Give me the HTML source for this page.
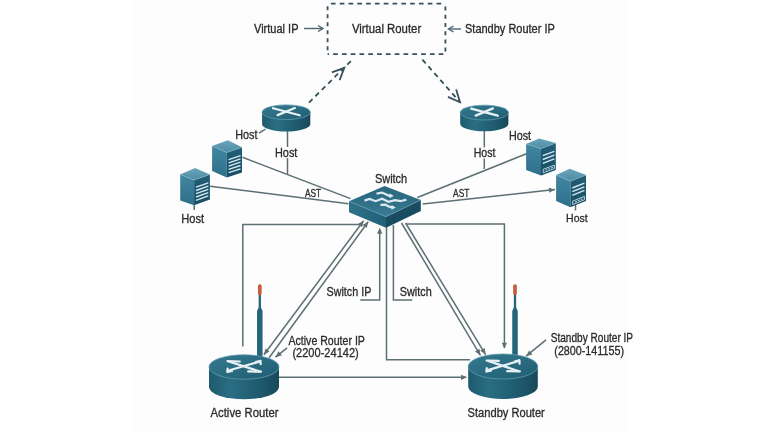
<!DOCTYPE html>
<html><head><meta charset="utf-8"><style>
html,body{margin:0;padding:0;background:#ffffff;width:768px;height:431px;overflow:hidden}
svg{display:block;font-family:"Liberation Sans",sans-serif;will-change:transform}
</style></head><body>
<svg width="768" height="431" viewBox="0 0 768 431" font-family="Liberation Sans, sans-serif">
<defs>
<linearGradient id="rtop" x1="0" y1="0" x2="1" y2="1"><stop offset="0" stop-color="#357a90"/><stop offset="1" stop-color="#1f5d72"/></linearGradient>
<linearGradient id="rside" x1="0" y1="0" x2="1" y2="0"><stop offset="0" stop-color="#1e5a6d"/><stop offset="0.3" stop-color="#2a6e84"/><stop offset="0.8" stop-color="#1d566a"/><stop offset="1" stop-color="#174858"/></linearGradient>
<linearGradient id="stop" x1="0" y1="0" x2="0" y2="1"><stop offset="0" stop-color="#6aa5ba"/><stop offset="1" stop-color="#4d8ca5"/></linearGradient>
<linearGradient id="sleft" x1="0" y1="0" x2="0" y2="1"><stop offset="0" stop-color="#4186a2"/><stop offset="1" stop-color="#2e708a"/></linearGradient>
<linearGradient id="sright" x1="0" y1="0" x2="0" y2="1"><stop offset="0" stop-color="#225f78"/><stop offset="1" stop-color="#184d63"/></linearGradient>
<linearGradient id="swtop" x1="0" y1="0" x2="0" y2="1"><stop offset="0" stop-color="#2a6a80"/><stop offset="0.5" stop-color="#2f6f86"/><stop offset="1" stop-color="#3a7d94"/></linearGradient>
<linearGradient id="swleft" x1="0" y1="0" x2="1" y2="0"><stop offset="0" stop-color="#2f7189"/><stop offset="1" stop-color="#22607a"/></linearGradient>
</defs>
<rect width="768" height="431" fill="#ffffff"/>
<rect x="131" width="497" height="431" fill="#fdfdfd"/>
<line x1="330.9" y1="3.6" x2="445.4" y2="3.6" stroke="#37505a" stroke-width="1.8" stroke-dasharray="4.7 4.1"/>
<line x1="327.6" y1="6.3" x2="327.6" y2="54.2" stroke="#37505a" stroke-width="1.8" stroke-dasharray="4 4"/>
<line x1="445.4" y1="3.6" x2="445.4" y2="54.2" stroke="#37505a" stroke-width="1.8" stroke-dasharray="4 4.2" stroke-dashoffset="-3"/>
<line x1="445.4" y1="54.2" x2="327.6" y2="54.2" stroke="#37505a" stroke-width="1.8" stroke-dasharray="4.7 4.1" stroke-dashoffset="-2"/>
<rect x="252.5" y="22.96" width="47.5" height="11.07" fill="#fdfdfd"/>
<text x="254" y="32.73" font-size="12.3" fill="#2a2a2a" stroke="#2a2a2a" stroke-width="0.3" textLength="44.5" lengthAdjust="spacingAndGlyphs">Virtual IP</text>
<line x1="304" y1="28.5" x2="322" y2="28.5" stroke="#4a6370" stroke-width="1.4" />
<polyline points="318.00,31.50 323,28.5 318.00,25.50" fill="none" stroke="#4a6370" stroke-width="1.4"/>
<rect x="350.4" y="23.27" width="72.3" height="11.07" fill="#fdfdfd"/>
<text x="351.9" y="33.03" font-size="12.3" fill="#2a2a2a" stroke="#2a2a2a" stroke-width="0.3" textLength="69.3" lengthAdjust="spacingAndGlyphs">Virtual Router</text>
<line x1="449.5" y1="29" x2="461" y2="29" stroke="#4a6370" stroke-width="1.4" />
<polyline points="453.50,26.00 448.5,29 453.50,32.00" fill="none" stroke="#4a6370" stroke-width="1.4"/>
<rect x="463.5" y="23.46" width="92.8" height="11.07" fill="#fdfdfd"/>
<text x="465" y="33.23" font-size="12.3" fill="#2a2a2a" stroke="#2a2a2a" stroke-width="0.3" textLength="89.8" lengthAdjust="spacingAndGlyphs">Standby Router IP</text>
<line x1="309" y1="102.6" x2="351.5" y2="60.4" stroke="#37505a" stroke-width="1.8" stroke-dasharray="5 4"/>
<polyline points="339.62,80.14 344.3,67.8 331.89,72.31" fill="none" stroke="#37505a" stroke-width="1.8"/>
<line x1="422.4" y1="59.7" x2="460" y2="102.2" stroke="#37505a" stroke-width="1.8" stroke-dasharray="5 4"/>
<polyline points="447.93,96.86 460,102.2 456.17,89.57" fill="none" stroke="#37505a" stroke-width="1.8"/>
<line x1="265.5" y1="129.2" x2="257.7" y2="133.9" stroke="#5c6f73" stroke-width="1.5" />
<line x1="287.5" y1="131" x2="287.5" y2="174" stroke="#5c6f73" stroke-width="1.5" />
<line x1="242.5" y1="157.3" x2="350.6" y2="198.6" stroke="#5c6f73" stroke-width="1.5" />
<line x1="210.1" y1="186.3" x2="348.5" y2="203.8" stroke="#5c6f73" stroke-width="1.5" />
<line x1="417.4" y1="197.5" x2="526.4" y2="153.8" stroke="#5c6f73" stroke-width="1.5" />
<line x1="422.7" y1="204" x2="555" y2="189.6" stroke="#5c6f73" stroke-width="1.5" />
<polygon points="549.32,192.83 555,189.6 548.75,187.66" fill="#5c6f73"/>
<line x1="484.3" y1="131" x2="484.3" y2="169" stroke="#5c6f73" stroke-width="1.5" />
<line x1="575.5" y1="205" x2="575.5" y2="210.5" stroke="#5c6f73" stroke-width="1.5" />
<line x1="194.2" y1="205" x2="194.2" y2="210" stroke="#5c6f73" stroke-width="1.5" />
<polyline points="362,224.4 242.8,224.4 242.8,346.4" fill="none" stroke="#5c6f73" stroke-width="1.5" stroke-linejoin="miter"/>
<line x1="263.9" y1="354.8" x2="363.6" y2="220.8" stroke="#5c6f73" stroke-width="1.5" />
<polygon points="362.10,227.17 363.6,220.8 357.93,224.06" fill="#5c6f73"/>
<polygon points="265.40,348.43 263.9,354.8 269.57,351.54" fill="#5c6f73"/>
<line x1="269.1" y1="357.7" x2="368.2" y2="221.7" stroke="#5c6f73" stroke-width="1.5" />
<polygon points="366.77,228.08 368.2,221.7 362.57,225.02" fill="#5c6f73"/>
<polyline points="360.3,300 379.7,300 379.7,229" fill="none" stroke="#5c6f73" stroke-width="1.5" stroke-linejoin="miter"/>
<polygon points="382.30,233.70 379.7,227.7 377.10,233.70" fill="#5c6f73"/>
<polyline points="386.5,227 386.5,359.7 470,359.7" fill="none" stroke="#5c6f73" stroke-width="1.5" stroke-linejoin="miter"/>
<polyline points="393.4,225 393.4,300 412.2,300" fill="none" stroke="#5c6f73" stroke-width="1.5" stroke-linejoin="miter"/>
<polyline points="405.6,224 504.4,224 504.4,348" fill="none" stroke="#5c6f73" stroke-width="1.5" stroke-linejoin="miter"/>
<polygon points="501.80,342.70 504.4,348.7 507.00,342.70" fill="#5c6f73"/>
<line x1="401.5" y1="223" x2="480.4" y2="355.3" stroke="#5c6f73" stroke-width="1.5" />
<polygon points="475.09,351.48 480.4,355.3 479.56,348.82" fill="#5c6f73"/>
<line x1="405.6" y1="223" x2="485.6" y2="354.6" stroke="#5c6f73" stroke-width="1.5" />
<polygon points="480.26,350.82 485.6,354.6 484.70,348.12" fill="#5c6f73"/>
<line x1="278" y1="377.3" x2="466" y2="377.3" stroke="#5c6f73" stroke-width="1.5" />
<polygon points="461.00,379.90 467,377.3 461.00,374.70" fill="#5c6f73"/>
<line x1="546" y1="339.8" x2="526.1" y2="356.2" stroke="#5c6f73" stroke-width="1.5" />
<polygon points="529.08,350.38 526.1,356.2 532.38,354.39" fill="#5c6f73"/>
<line x1="287.1" y1="347.8" x2="275.5" y2="357.1" stroke="#5c6f73" stroke-width="1.5" />
<polygon points="278.55,351.32 275.5,357.1 281.81,355.38" fill="#5c6f73"/>
<path d="M262.09999999999997,112.2 L262.09999999999997,124.2 A24.1,7.3 0 0 0 310.3,124.2 L310.3,112.2 Z" fill="url(#rside)"/>
<ellipse cx="286.2" cy="112.2" rx="24.1" ry="7.3" fill="url(#rtop)" stroke="#5d9bb0" stroke-width="0.8"/>
<polyline points="273.12,108.26 299.63,115.26" fill="none" stroke="#e6f1f4" stroke-width="2.30" stroke-linecap="round"/>
<polyline points="277.59,115.14 294.81,108.02" fill="none" stroke="#e6f1f4" stroke-width="2.30" stroke-linecap="round"/>
<path d="M460.2,112.6 L460.2,123.8 A24.1,7.4 0 0 0 508.40000000000003,123.8 L508.40000000000003,112.6 Z" fill="url(#rside)"/>
<ellipse cx="484.3" cy="112.6" rx="24.1" ry="7.4" fill="url(#rtop)" stroke="#5d9bb0" stroke-width="0.8"/>
<polyline points="471.22,108.61 497.73,115.71" fill="none" stroke="#e6f1f4" stroke-width="2.30" stroke-linecap="round"/>
<polyline points="475.69,115.59 492.91,108.37" fill="none" stroke="#e6f1f4" stroke-width="2.30" stroke-linecap="round"/>
<path d="M258.65000000000003,294 L258.65000000000003,307.5 L257.05,311 L257.05,360 L262.55,360 L262.55,311 L260.95,307.5 L260.95,294 Z" fill="#246579"/>
<rect x="257.95" y="284.2" width="3.7" height="10.8" rx="1.8" fill="#cc5a3e"/>
<path d="M513.85,294 L513.85,307.5 L512.25,311 L512.25,360 L517.75,360 L517.75,311 L516.15,307.5 L516.15,294 Z" fill="#246579"/>
<rect x="513.15" y="284.2" width="3.7" height="10.8" rx="1.8" fill="#cc5a3e"/>
<path d="M209,367 L209,387 A35,12.2 0 0 0 279,387 L279,367 Z" fill="url(#rside)"/>
<ellipse cx="244" cy="367" rx="35" ry="12.2" fill="url(#rtop)" stroke="#5d9bb0" stroke-width="0.8"/>
<polyline points="227.72,370.78 259.25,361.77" fill="none" stroke="#e6f1f4" stroke-width="2.23" stroke-linecap="round"/>
<polyline points="228.93,361.50 259.25,371.32" fill="none" stroke="#e6f1f4" stroke-width="2.23" stroke-linecap="round"/>
<polyline points="227.45,361.14 239.81,361.50" fill="none" stroke="#e6f1f4" stroke-width="2.23" stroke-linecap="round"/>
<polyline points="261.02,371.68 248.19,371.41" fill="none" stroke="#e6f1f4" stroke-width="2.23" stroke-linecap="round"/>
<polyline points="260.37,360.97 260.74,364.18" fill="none" stroke="#e6f1f4" stroke-width="2.23" stroke-linecap="round"/>
<polyline points="260.37,360.97 256.09,361.86" fill="none" stroke="#e6f1f4" stroke-width="2.23" stroke-linecap="round"/>
<polyline points="227.45,371.86 227.63,368.64" fill="none" stroke="#e6f1f4" stroke-width="2.23" stroke-linecap="round"/>
<polyline points="227.45,371.86 231.91,370.96" fill="none" stroke="#e6f1f4" stroke-width="2.23" stroke-linecap="round"/>
<path d="M468.2,366.5 L468.2,386.5 A34.8,12.5 0 0 0 537.8,386.5 L537.8,366.5 Z" fill="url(#rside)"/>
<ellipse cx="503" cy="366.5" rx="34.8" ry="12.5" fill="url(#rtop)" stroke="#5d9bb0" stroke-width="0.8"/>
<polyline points="486.82,370.39 518.16,361.15" fill="none" stroke="#e6f1f4" stroke-width="2.22" stroke-linecap="round"/>
<polyline points="488.02,360.88 518.16,370.94" fill="none" stroke="#e6f1f4" stroke-width="2.22" stroke-linecap="round"/>
<polyline points="486.54,360.51 498.84,360.88" fill="none" stroke="#e6f1f4" stroke-width="2.22" stroke-linecap="round"/>
<polyline points="519.92,371.30 507.16,371.03" fill="none" stroke="#e6f1f4" stroke-width="2.22" stroke-linecap="round"/>
<polyline points="519.27,360.33 519.64,363.62" fill="none" stroke="#e6f1f4" stroke-width="2.22" stroke-linecap="round"/>
<polyline points="519.27,360.33 515.02,361.24" fill="none" stroke="#e6f1f4" stroke-width="2.22" stroke-linecap="round"/>
<polyline points="486.54,371.49 486.73,368.20" fill="none" stroke="#e6f1f4" stroke-width="2.22" stroke-linecap="round"/>
<polyline points="486.54,371.49 490.98,370.57" fill="none" stroke="#e6f1f4" stroke-width="2.22" stroke-linecap="round"/>
<polygon points="212.1,145.9 226.8,152.5 226.8,177.5 212.1,171.0" fill="url(#sleft)"/>
<polygon points="226.8,152.5 242.0,147.3 242.0,172.6 226.8,177.5" fill="url(#sright)"/>
<polygon points="212.1,145.9 227.9,140.2 242.0,147.3 226.8,152.5" fill="url(#stop)"/>
<polyline points="212.1,145.9 226.8,152.5 242.0,147.3" fill="none" stroke="#7fb3c6" stroke-width="0.6"/>
<line x1="228.6" y1="159.6" x2="240.5" y2="155.7" stroke="#d5e8ef" stroke-width="1.4"/>
<line x1="228.6" y1="162.9" x2="240.5" y2="158.9" stroke="#d5e8ef" stroke-width="1.4"/>
<line x1="228.6" y1="166.1" x2="240.5" y2="162.2" stroke="#d5e8ef" stroke-width="1.4"/>
<line x1="228.6" y1="169.4" x2="240.5" y2="165.5" stroke="#d5e8ef" stroke-width="1.4"/>
<line x1="228.6" y1="172.7" x2="240.5" y2="168.8" stroke="#d5e8ef" stroke-width="1.4"/>
<polygon points="180.2,174.5 194.1,180.1 194.1,205.2 180.2,200.5" fill="url(#sleft)"/>
<polygon points="194.1,180.1 209.9,174.5 209.9,199.6 194.1,205.2" fill="url(#sright)"/>
<polygon points="180.2,174.5 195.0,168.0 209.9,174.5 194.1,180.1" fill="url(#stop)"/>
<polyline points="180.2,174.5 194.1,180.1 209.9,174.5" fill="none" stroke="#7fb3c6" stroke-width="0.6"/>
<line x1="196.0" y1="187.2" x2="208.3" y2="182.8" stroke="#d5e8ef" stroke-width="1.4"/>
<line x1="196.0" y1="190.5" x2="208.3" y2="186.1" stroke="#d5e8ef" stroke-width="1.4"/>
<line x1="196.0" y1="193.7" x2="208.3" y2="189.4" stroke="#d5e8ef" stroke-width="1.4"/>
<line x1="196.0" y1="197.0" x2="208.3" y2="192.6" stroke="#d5e8ef" stroke-width="1.4"/>
<line x1="196.0" y1="200.3" x2="208.3" y2="195.9" stroke="#d5e8ef" stroke-width="1.4"/>
<polygon points="526.1,143.9 541.0,148.6 541.0,175.5 526.1,169.9" fill="url(#sleft)"/>
<polygon points="541.0,148.6 555.8,143.0 555.8,169.9 541.0,175.5" fill="url(#sright)"/>
<polygon points="526.1,143.9 539.1,138.4 555.8,143.0 541.0,148.6" fill="url(#stop)"/>
<polyline points="526.1,143.9 541.0,148.6 555.8,143.0" fill="none" stroke="#7fb3c6" stroke-width="0.6"/>
<line x1="542.8" y1="155.7" x2="554.3" y2="151.4" stroke="#d5e8ef" stroke-width="1.4"/>
<line x1="542.8" y1="159.5" x2="554.3" y2="155.1" stroke="#d5e8ef" stroke-width="1.4"/>
<line x1="542.8" y1="163.3" x2="554.3" y2="158.9" stroke="#d5e8ef" stroke-width="1.4"/>
<polygon points="543.2,169.3 554.3,165.1 554.3,168.6 543.2,172.8" fill="none" stroke="#c9e0e8" stroke-width="0.9"/>
<line x1="545.4" y1="170.2" x2="552.8" y2="167.4" stroke="#c9e0e8" stroke-width="1" stroke-dasharray="2 1"/>
<polygon points="556.1,174.9 570.4,181.2 570.4,207.3 556.1,201.0" fill="url(#sleft)"/>
<polygon points="570.4,181.2 586.0,174.9 586.0,201.0 570.4,207.3" fill="url(#sright)"/>
<polygon points="556.1,174.9 569.8,168.7 586.0,174.9 570.4,181.2" fill="url(#stop)"/>
<polyline points="556.1,174.9 570.4,181.2 586.0,174.9" fill="none" stroke="#7fb3c6" stroke-width="0.6"/>
<line x1="572.3" y1="188.0" x2="584.4" y2="183.1" stroke="#d5e8ef" stroke-width="1.4"/>
<line x1="572.3" y1="191.7" x2="584.4" y2="186.8" stroke="#d5e8ef" stroke-width="1.4"/>
<line x1="572.3" y1="195.3" x2="584.4" y2="190.4" stroke="#d5e8ef" stroke-width="1.4"/>
<polygon points="572.7,201.1 584.4,196.4 584.4,199.8 572.7,204.5" fill="none" stroke="#c9e0e8" stroke-width="0.9"/>
<line x1="575.1" y1="201.9" x2="582.9" y2="198.7" stroke="#c9e0e8" stroke-width="1" stroke-dasharray="2 1"/>
<polygon points="349.0,201.3 386.0,216.7 386.0,227.7 349.0,212.3" fill="url(#swleft)"/>
<polygon points="386.0,216.7 420.8,200.0 420.8,211.0 386.0,227.7" fill="#1a4c60"/>
<polygon points="349.0,201.3 384.6,186.0 420.8,200.0 386.0,216.7" fill="url(#swtop)"/>
<polyline points="349.0,201.3 386.0,216.7 420.8,200.0" fill="none" stroke="#5b97ab" stroke-width="0.7"/>
<polyline points="376.5,193.6 382.1,192.6 388.6,195.6 390.5,195.8" fill="none" stroke="#d8eaf0" stroke-width="2.2" stroke-linecap="butt" stroke-linejoin="miter" stroke-miterlimit="3"/>
<polyline points="364.5,200.6 369.4,199.0 375.7,201.2 382.1,198.8 388.5,201.8 394.9,200.2 400.6,201.2 406.4,199.6" fill="none" stroke="#d8eaf0" stroke-width="2.2" stroke-linecap="butt" stroke-linejoin="miter" stroke-miterlimit="3"/>
<polyline points="380.5,204.9 385.3,204.7 390.4,207.2 392.5,207.4" fill="none" stroke="#d8eaf0" stroke-width="2.2" stroke-linecap="butt" stroke-linejoin="miter" stroke-miterlimit="3"/>
<polygon points="389.5,193.3 393.8,196.1 389.5,198.3" fill="#d8eaf0"/>
<polygon points="391.5,205.0 395.8,207.6 391.5,209.8" fill="#d8eaf0"/>
<rect x="233.7" y="129.66" width="25.3" height="11.07" fill="#fdfdfd"/>
<text x="235.2" y="139.43" font-size="12.3" fill="#2a2a2a" stroke="#2a2a2a" stroke-width="0.3" textLength="22.3" lengthAdjust="spacingAndGlyphs">Host</text>
<rect x="273.5" y="146.97" width="25.4" height="11.07" fill="#fdfdfd"/>
<text x="275" y="156.73" font-size="12.3" fill="#2a2a2a" stroke="#2a2a2a" stroke-width="0.3" textLength="22.4" lengthAdjust="spacingAndGlyphs">Host</text>
<rect x="373.4" y="173.06" width="35.3" height="11.07" fill="#fdfdfd"/>
<text x="374.9" y="182.83" font-size="12.3" fill="#2a2a2a" stroke="#2a2a2a" stroke-width="0.3" textLength="32.3" lengthAdjust="spacingAndGlyphs">Switch</text>
<text x="305" y="196.76" font-size="11.5" fill="#2a2a2a" stroke="#2a2a2a" stroke-width="0.3" textLength="16.2" lengthAdjust="spacingAndGlyphs">AST</text>
<text x="453.1" y="197.36" font-size="11.5" fill="#2a2a2a" stroke="#2a2a2a" stroke-width="0.3" textLength="16.3" lengthAdjust="spacingAndGlyphs">AST</text>
<rect x="179.8" y="213.06" width="25.9" height="11.07" fill="#fdfdfd"/>
<text x="181.3" y="222.83" font-size="12.3" fill="#2a2a2a" stroke="#2a2a2a" stroke-width="0.3" textLength="22.9" lengthAdjust="spacingAndGlyphs">Host</text>
<rect x="472.2" y="147.37" width="24.8" height="11.07" fill="#fdfdfd"/>
<text x="473.7" y="157.13" font-size="12.3" fill="#2a2a2a" stroke="#2a2a2a" stroke-width="0.3" textLength="21.8" lengthAdjust="spacingAndGlyphs">Host</text>
<rect x="507.5" y="129.97" width="25.1" height="11.07" fill="#fdfdfd"/>
<text x="509" y="139.73" font-size="12.3" fill="#2a2a2a" stroke="#2a2a2a" stroke-width="0.3" textLength="22.1" lengthAdjust="spacingAndGlyphs">Host</text>
<rect x="564.6" y="212.99" width="24.6" height="10.62" fill="#fdfdfd"/>
<text x="566.1" y="222.36" font-size="11.8" fill="#2a2a2a" stroke="#2a2a2a" stroke-width="0.3" textLength="21.6" lengthAdjust="spacingAndGlyphs">Host</text>
<rect x="325.1" y="285.76" width="47.7" height="11.07" fill="#fdfdfd"/>
<text x="326.6" y="295.53" font-size="12.3" fill="#2a2a2a" stroke="#2a2a2a" stroke-width="0.3" textLength="44.7" lengthAdjust="spacingAndGlyphs">Switch IP</text>
<rect x="398.2" y="285.76" width="35.0" height="11.07" fill="#fdfdfd"/>
<text x="399.7" y="295.53" font-size="12.3" fill="#2a2a2a" stroke="#2a2a2a" stroke-width="0.3" textLength="32.0" lengthAdjust="spacingAndGlyphs">Switch</text>
<rect x="287.0" y="335.06" width="79.4" height="11.07" fill="#fdfdfd"/>
<text x="288.5" y="344.83" font-size="12.3" fill="#2a2a2a" stroke="#2a2a2a" stroke-width="0.3" textLength="76.4" lengthAdjust="spacingAndGlyphs">Active Router IP</text>
<rect x="290.9" y="347.16" width="69.4" height="11.07" fill="#fdfdfd"/>
<text x="292.4" y="356.93" font-size="12.3" fill="#2a2a2a" stroke="#2a2a2a" stroke-width="0.3" textLength="66.4" lengthAdjust="spacingAndGlyphs">(2200-24142)</text>
<rect x="209.0" y="406.86" width="71.0" height="11.07" fill="#fdfdfd"/>
<text x="210.5" y="416.63" font-size="12.3" fill="#2a2a2a" stroke="#2a2a2a" stroke-width="0.3" textLength="68.0" lengthAdjust="spacingAndGlyphs">Active Router</text>
<rect x="466.1" y="406.86" width="80.2" height="11.07" fill="#fdfdfd"/>
<text x="467.6" y="416.63" font-size="12.3" fill="#2a2a2a" stroke="#2a2a2a" stroke-width="0.3" textLength="77.2" lengthAdjust="spacingAndGlyphs">Standby Router</text>
<rect x="549.2" y="332.66" width="85.4" height="11.07" fill="#fdfdfd"/>
<text x="550.7" y="342.43" font-size="12.3" fill="#2a2a2a" stroke="#2a2a2a" stroke-width="0.3" textLength="82.4" lengthAdjust="spacingAndGlyphs">Standby Router IP</text>
<rect x="552.8" y="345.06" width="72.7" height="11.07" fill="#fdfdfd"/>
<text x="554.3" y="354.83" font-size="12.3" fill="#2a2a2a" stroke="#2a2a2a" stroke-width="0.3" textLength="69.7" lengthAdjust="spacingAndGlyphs">(2800-141155)</text>
</svg>
</body></html>
